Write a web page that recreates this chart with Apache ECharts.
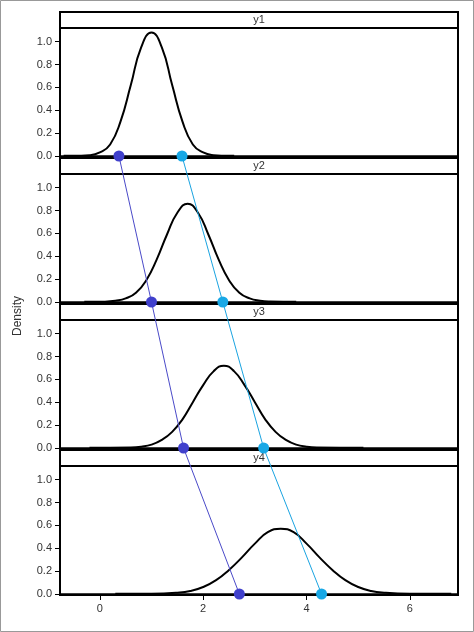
<!DOCTYPE html>
<html>
<head>
<meta charset="utf-8">
<script src="https://cdn.jsdelivr.net/npm/echarts@6/dist/echarts.min.js"></script>
<style>html,body{margin:0;padding:0;background:#fff}#chart{width:474px;height:632px}</style>
</head>
<body>
<div id="chart"></div>
<script>
// panel labels
const panelNames = ['y1', 'y2', 'y3', 'y4'];
// density curves [x, density]
const densY1 = [[-0.7,0],[-0.4,0.001],[-0.2,0.005],[0,0.03],[0.2,0.1],[0.4,0.3],[0.6,0.62],[0.8,0.95],[1.0,1.08],[1.2,0.95],[1.4,0.62],[1.6,0.3],[1.8,0.1],[2.0,0.03],[2.2,0.006],[2.4,0.001],[2.6,0]];
const densY2 = [[-0.3,0],[0.1,0.002],[0.3,0.01],[0.5,0.03],[0.7,0.08],[0.9,0.19],[1.1,0.37],[1.3,0.59],[1.5,0.78],[1.7,0.86],[1.9,0.78],[2.1,0.59],[2.3,0.37],[2.5,0.19],[2.7,0.08],[2.9,0.03],[3.1,0.01],[3.3,0.003],[3.8,0]];
const densY3 = [[-0.2,0],[0.6,0.003],[0.8,0.01],[1.0,0.028],[1.2,0.07],[1.4,0.14],[1.6,0.25],[1.8,0.4],[2.0,0.55],[2.2,0.67],[2.4,0.72],[2.6,0.67],[2.8,0.55],[3.0,0.4],[3.2,0.25],[3.4,0.14],[3.6,0.07],[3.8,0.028],[4.0,0.01],[4.2,0.003],[5.1,0]];
const densY4 = [[0.3,0],[1.0,0.001],[1.5,0.01],[1.75,0.025],[2.0,0.06],[2.25,0.12],[2.5,0.21],[2.75,0.32],[3.0,0.44],[3.25,0.54],[3.5,0.57],[3.75,0.54],[4.0,0.44],[4.25,0.32],[4.5,0.21],[4.75,0.12],[5.0,0.06],[5.25,0.025],[5.5,0.01],[6.0,0.001],[6.8,0]];
const curves = [densY1, densY2, densY3, densY4];
// connected points: x per panel (panel index 0..3 -> overlay y 0..-3)
const darkX = [0.37, 1.0, 1.62, 2.7];
const lightX = [1.59, 2.38, 3.17, 4.29];
const yTicks = [0, 0.2, 0.4, 0.6, 0.8, 1.0];

const chart = echarts.init(document.getElementById('chart'));
const grids = [], xAxes = [], yAxes = [], series = [], graphics = [];
const step = 146;

panelNames.forEach((name, i) => {
  const top = 28 + step * i;
  grids.push({ left: 60, width: 398, top: top, height: 129, show: true, borderColor: '#000', borderWidth: 2 });
  xAxes.push({
    gridIndex: i, type: 'value', min: -0.77, max: 6.93, interval: 2,
    axisLine: { show: false, onZero: false }, splitLine: { show: false },
    axisTick: { show: i === 3, length: 5, customValues: [0, 2, 4, 6], lineStyle: { color: '#000' } },
    axisLabel: { show: i === 3, color: '#333', fontSize: 11, fontFamily: 'Arial', customValues: [0, 2, 4, 6] }
  });
  yAxes.push({
    gridIndex: i, type: 'value', min: -0.01, max: 1.12,
    axisLine: { show: false, onZero: false }, splitLine: { show: false },
    axisTick: { show: true, length: 5, customValues: yTicks, lineStyle: { color: '#000' } },
    axisLabel: { color: '#333', fontSize: 11, fontFamily: 'Arial', customValues: yTicks, formatter: v => v.toFixed(1) }
  });
  series.push({
    type: 'line', xAxisIndex: i, yAxisIndex: i, data: curves[i], smooth: true,
    showSymbol: false, lineStyle: { color: '#000', width: 2 }, silent: true,
    markLine: { silent: true, symbol: 'none', label: { show: false }, lineStyle: { color: '#000', width: 1.5, type: 'solid' }, data: [{ yAxis: 0 }] }
  });
  graphics.push({
    type: 'rect', shape: { x: 60, y: 12 + step * i, width: 398, height: 16 },
    style: { fill: '#fff', stroke: '#000', lineWidth: 2 }
  });
  graphics.push({
    type: 'text', x: 259, y: 20 + step * i,
    style: { text: name, fill: '#333', font: '11px Arial', align: 'center', verticalAlign: 'middle' }
  });
});

// overlay grid for the connecting lines across panels
grids.push({ left: 60, width: 398, top: 156, height: 438 });
xAxes.push({ gridIndex: 4, type: 'value', min: -0.77, max: 6.93, show: false });
yAxes.push({ gridIndex: 4, type: 'value', min: -3, max: 0, show: false });
const mk = xs => xs.map((x, k) => [x, -k]);
series.push({
  type: 'line', xAxisIndex: 4, yAxisIndex: 4, data: mk(darkX), symbol: 'circle', symbolSize: 11,
  lineStyle: { color: '#4a4ac8', width: 1 }, itemStyle: { color: '#4040cc' }, z: 5
});
series.push({
  type: 'line', xAxisIndex: 4, yAxisIndex: 4, data: mk(lightX), symbol: 'circle', symbolSize: 11,
  lineStyle: { color: '#1aa3e0', width: 1 }, itemStyle: { color: '#18a8e6' }, z: 5
});

graphics.push({
  type: 'text', x: 18, y: 316, rotation: Math.PI / 2,
  style: { text: 'Density', fill: '#333', font: '12px Arial', align: 'center', verticalAlign: 'middle' }
});
graphics.push({
  type: 'rect', shape: { x: 0.5, y: 0.5, width: 473, height: 631 },
  style: { fill: 'none', stroke: '#999', lineWidth: 1 }
});

chart.setOption({
  animation: false,
  grid: grids, xAxis: xAxes, yAxis: yAxes, series: series, graphic: graphics
});
</script>
</body>
</html>
